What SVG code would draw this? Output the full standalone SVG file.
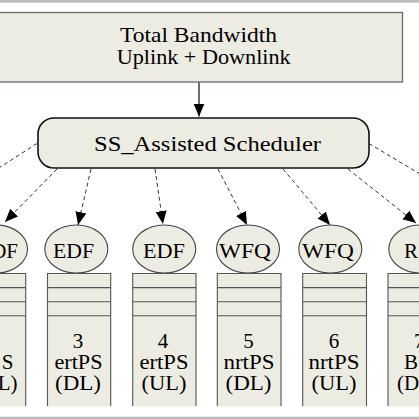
<svg xmlns="http://www.w3.org/2000/svg" width="419" height="419" viewBox="0 0 419 419" font-family="Liberation Serif, DejaVu Serif, serif" font-size="21">
<style>
.fill{fill:#ecece3}
.box{fill:#ecece3;stroke:#6a6a6a;stroke-width:1.3}
.sched{fill:#ecece3;stroke:#111;stroke-width:1.6}
.ell{fill:#ecece3;stroke:#444;stroke-width:1.1}
.q{fill:none;stroke:#555;stroke-width:1.1}
.m{text-anchor:middle}
.dash{fill:none;stroke:#333;stroke-width:1;stroke-dasharray:4 3}
.solid{fill:none;stroke:#555;stroke-width:1.7}
.band{fill:#bcbcbc}
</style>
<defs>
<marker id="ah" markerUnits="userSpaceOnUse" markerWidth="14" markerHeight="12" refX="13" refY="5.5" orient="auto">
<path d="M0,0 L13,5.5 L0,11 Z" fill="#000"/>
</marker>
</defs>
<rect x="0" y="0" width="419" height="419" fill="#fff"/>
<rect class="band" x="0" y="0" width="419" height="2.7"/>
<rect class="band" x="0" y="416.7" width="419" height="2.3"/>

<g id="connectors">
<path class="solid" d="M199,82 V116.5" marker-end="url(#ah)"/>
<path class="dash" d="M37,143.5 L-20,180"/>
<path class="dash" d="M57,169 L5,222" marker-end="url(#ah)"/>
<path class="dash" d="M91,169 L78,225" marker-end="url(#ah)"/>
<path class="dash" d="M155,169 L163,224" marker-end="url(#ah)"/>
<path class="dash" d="M218,169 L247,225" marker-end="url(#ah)"/>
<path class="dash" d="M283,169 L330,225" marker-end="url(#ah)"/>
<path class="dash" d="M348,169 L416,223" marker-end="url(#ah)"/>
<path class="dash" d="M369,143.5 L440,186"/>
</g>

<g id="total-bandwidth">
<rect class="box" x="-5" y="12.5" width="407.5" height="69.5"/>
<text x="120" y="42" textLength="157" lengthAdjust="spacingAndGlyphs">Total Bandwidth</text>
<text x="116.7" y="63.5" textLength="174" lengthAdjust="spacingAndGlyphs">Uplink + Downlink</text>
</g>

<g id="scheduler">
<rect class="sched" x="38" y="118" width="331" height="50" rx="16" ry="16"/>
<text x="94" y="151" textLength="227" lengthAdjust="spacingAndGlyphs">SS_Assisted Scheduler</text>
</g>

<g id="sched-2">
<ellipse class="ell" cx="-4" cy="249" rx="31.5" ry="24"/>
<text x="18" y="258" text-anchor="end">DF</text>
</g>
<g id="sched-3">
<ellipse class="ell" cx="76.3" cy="249" rx="31.5" ry="24"/>
<text x="53" y="258" textLength="41" lengthAdjust="spacingAndGlyphs">EDF</text>
</g>
<g id="sched-4">
<ellipse class="ell" cx="164.2" cy="249" rx="31.5" ry="24"/>
<text x="143" y="258" textLength="42" lengthAdjust="spacingAndGlyphs">EDF</text>
</g>
<g id="sched-5">
<ellipse class="ell" cx="248" cy="249" rx="31.5" ry="24"/>
<text x="219" y="258" textLength="52" lengthAdjust="spacingAndGlyphs">WFQ</text>
</g>
<g id="sched-6">
<ellipse class="ell" cx="330.3" cy="249" rx="31.5" ry="24"/>
<text x="302" y="258" textLength="52" lengthAdjust="spacingAndGlyphs">WFQ</text>
</g>
<g id="sched-7">
<ellipse class="ell" cx="420.3" cy="249" rx="31.5" ry="24"/>
<text x="404" y="258">R</text>
</g>

<g id="queue-2">
<rect class="fill" x="-40" y="273.5" width="65.7" height="133"/>
<path class="q" d="M-40,273.5 H25.7 V406 M-40,287.6 H25.7 M-40,301.7 H25.7 M-40,315.8 H25.7"/>
<text x="13.5" y="369" text-anchor="end">S</text>
<text x="17.5" y="390" text-anchor="end">L)</text>
</g>
<g id="queue-3">
<rect class="fill" x="47.5" y="273.5" width="63.2" height="133"/>
<path class="q" d="M47.5,406 V273.5 H110.7 V406 M47.5,287.6 H110.7 M47.5,301.7 H110.7 M47.5,315.8 H110.7"/>
<text class="m" x="78" y="348">3</text>
<text class="m" x="78.5" y="369" textLength="48" lengthAdjust="spacingAndGlyphs">ertPS</text>
<text class="m" x="78" y="390" textLength="46" lengthAdjust="spacingAndGlyphs">(DL)</text>
</g>
<g id="queue-4">
<rect class="fill" x="132.7" y="273.5" width="63.3" height="133"/>
<path class="q" d="M132.7,406 V273.5 H196 V406 M132.7,287.6 H196 M132.7,301.7 H196 M132.7,315.8 H196"/>
<text class="m" x="163" y="348">4</text>
<text class="m" x="164" y="369" textLength="49" lengthAdjust="spacingAndGlyphs">ertPS</text>
<text class="m" x="164" y="390" textLength="45" lengthAdjust="spacingAndGlyphs">(UL)</text>
</g>
<g id="queue-5">
<rect class="fill" x="217.3" y="273.5" width="63.7" height="133"/>
<path class="q" d="M217.3,406 V273.5 H281 V406 M217.3,287.6 H281 M217.3,301.7 H281 M217.3,315.8 H281"/>
<text class="m" x="248.5" y="348">5</text>
<text class="m" x="249" y="369" textLength="51" lengthAdjust="spacingAndGlyphs">nrtPS</text>
<text class="m" x="248.5" y="390" textLength="46" lengthAdjust="spacingAndGlyphs">(DL)</text>
</g>
<g id="queue-6">
<rect class="fill" x="302.7" y="273.5" width="63.8" height="133"/>
<path class="q" d="M302.7,406 V273.5 H366.5 V406 M302.7,287.6 H366.5 M302.7,301.7 H366.5 M302.7,315.8 H366.5"/>
<text class="m" x="334" y="348">6</text>
<text class="m" x="334" y="369" textLength="51" lengthAdjust="spacingAndGlyphs">nrtPS</text>
<text class="m" x="334" y="390" textLength="45" lengthAdjust="spacingAndGlyphs">(UL)</text>
</g>
<g id="queue-7">
<rect class="fill" x="388" y="273.5" width="40" height="133"/>
<path class="q" d="M388,406 V273.5 H425 M388,287.6 H425 M388,301.7 H425 M388,315.8 H425"/>
<text x="414" y="348">7</text>
<text x="404" y="369">B</text>
<text x="397" y="390">(D</text>
</g>
</svg>
